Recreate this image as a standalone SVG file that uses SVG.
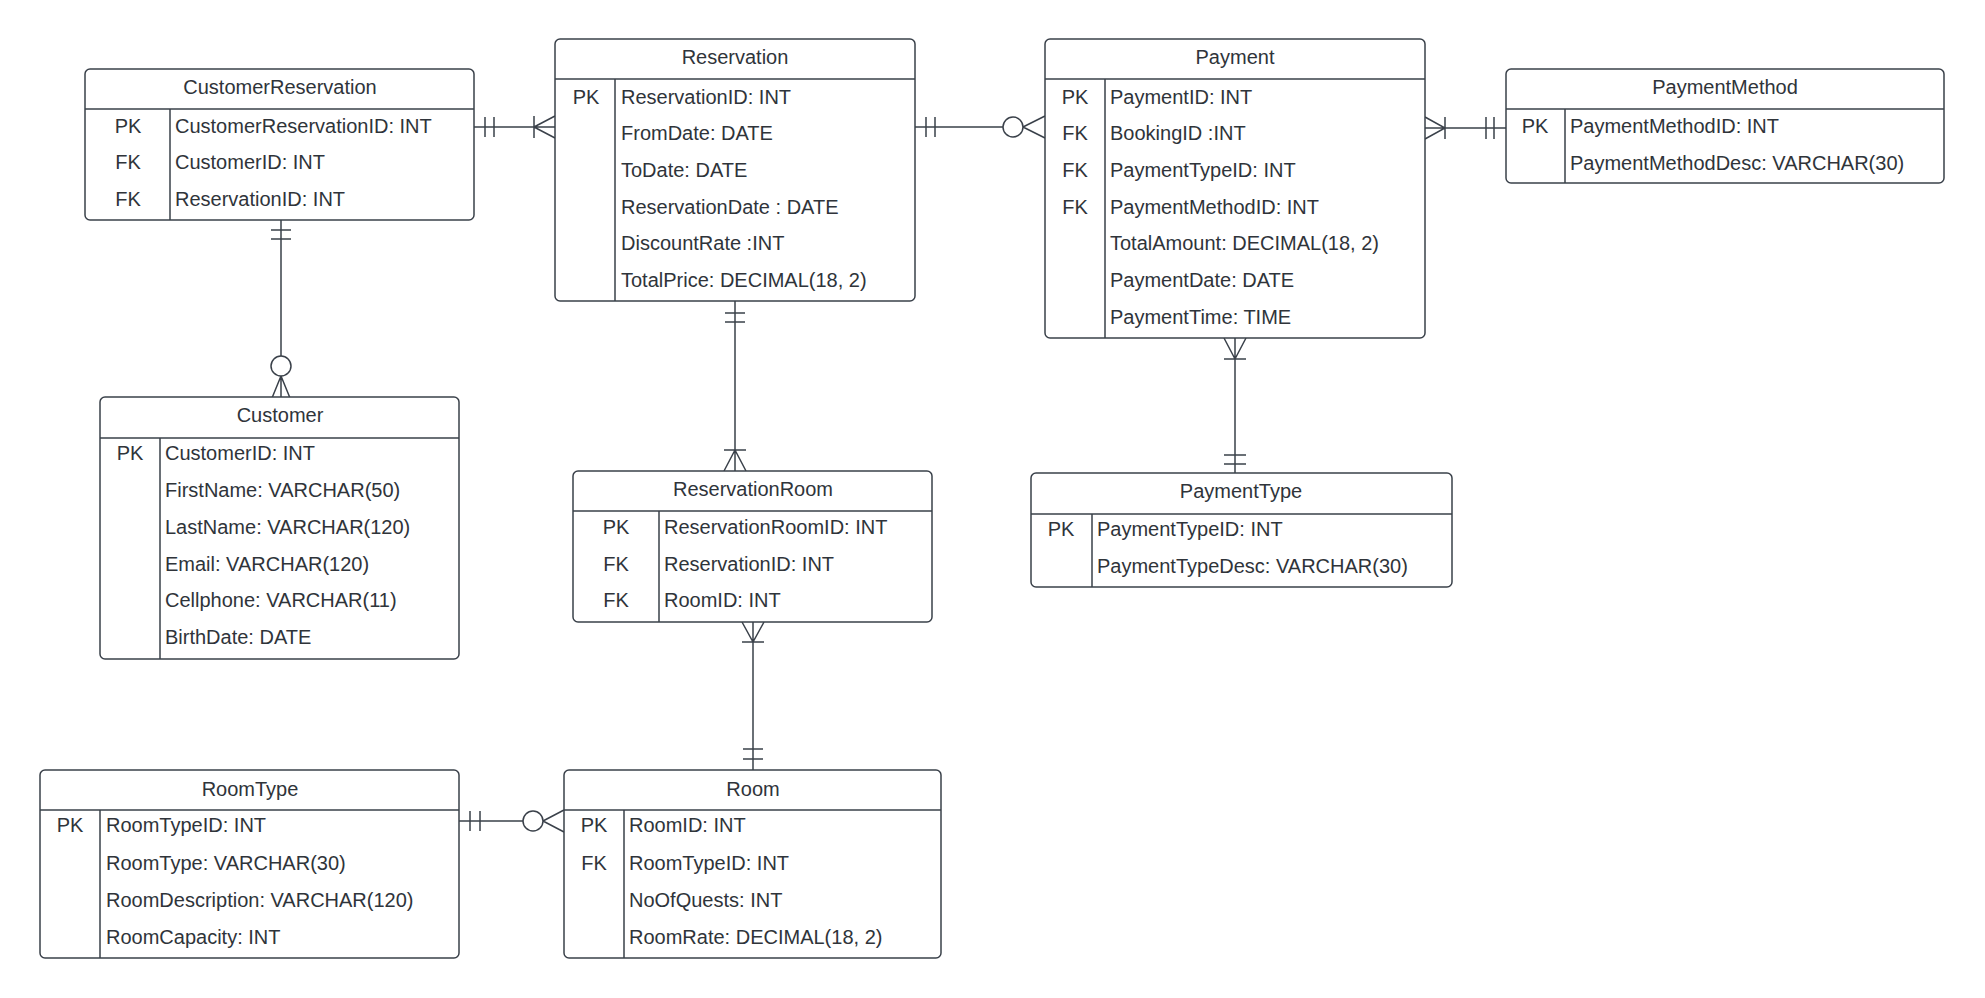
<svg xmlns="http://www.w3.org/2000/svg" width="1985" height="998" viewBox="0 0 1985 998">
<style>
.box{fill:#fff;stroke:#3a414a;stroke-width:1.5}
.ln{stroke:#3a414a;stroke-width:1.5;fill:none}
text{font-family:"Liberation Sans",Arial,sans-serif;font-size:20px;fill:#2f343a}
.h{text-anchor:middle}
.k{text-anchor:middle}
</style>
<rect width="1985" height="998" fill="#fff"/>
<g id="connectors" class="ln">
<path d="M474 127H555M485 117v20M494 117v20M534 127L555 116M534 127L555 138M534 116v22"/>
<path d="M281 220V398M271 230h20M271 239h20M281 376L272 398M281 376L290 398"/>
<circle cx="281" cy="366" r="10" fill="#fff"/>
<path d="M735 301V471M725 313h20M725 322h20M735 450L724 471M735 450L746 471M724 450h22"/>
<path d="M915 127H1003M926 117v20M935 117v20M1023 127L1045 116M1023 127L1045 138"/>
<circle cx="1013" cy="127" r="10" fill="#fff"/>
<path d="M1425 128H1506M1425 117L1445 128L1425 139M1445 117v22M1486 117v22M1494 117v22"/>
<path d="M1235 338V473M1224 338L1235 359L1246 338M1224 359h22M1224 455h22M1224 464h22"/>
<path d="M753 622V770M742 622L753 642L764 622M742 642h22M743 749h20M743 759h20"/>
<path d="M459 821H523M470 811v20M480 811v20M543 821L564 810M543 821L564 832"/>
<circle cx="533" cy="821" r="10" fill="#fff"/>
</g>
<g id="CustomerReservation">
<rect class="box" x="85" y="69" width="389" height="151" rx="5"/>
<path class="ln" d="M85 109H474M170 109V220"/>
<text class="h" x="280" y="94">CustomerReservation</text>
<text class="k" x="128" y="133">PK</text><text x="175" y="133">CustomerReservationID: INT</text>
<text class="k" x="128" y="169">FK</text><text x="175" y="169">CustomerID: INT</text>
<text class="k" x="128" y="206">FK</text><text x="175" y="206">ReservationID: INT</text>
</g>
<g id="Reservation">
<rect class="box" x="555" y="39" width="360" height="262" rx="5"/>
<path class="ln" d="M555 79H915M615 79V301"/>
<text class="h" x="735" y="64">Reservation</text>
<text class="k" x="586" y="104">PK</text><text x="621" y="104">ReservationID: INT</text>
<text x="621" y="140">FromDate: DATE</text>
<text x="621" y="177">ToDate: DATE</text>
<text x="621" y="214">ReservationDate : DATE</text>
<text x="621" y="250">DiscountRate :INT</text>
<text x="621" y="287">TotalPrice: DECIMAL(18, 2)</text>
</g>
<g id="Payment">
<rect class="box" x="1045" y="39" width="380" height="299" rx="5"/>
<path class="ln" d="M1045 79H1425M1105 79V338"/>
<text class="h" x="1235" y="64">Payment</text>
<text class="k" x="1075" y="104">PK</text><text x="1110" y="104">PaymentID: INT</text>
<text class="k" x="1075" y="140">FK</text><text x="1110" y="140">BookingID :INT</text>
<text class="k" x="1075" y="177">FK</text><text x="1110" y="177">PaymentTypeID: INT</text>
<text class="k" x="1075" y="214">FK</text><text x="1110" y="214">PaymentMethodID: INT</text>
<text x="1110" y="250">TotalAmount: DECIMAL(18, 2)</text>
<text x="1110" y="287">PaymentDate: DATE</text>
<text x="1110" y="324">PaymentTime: TIME</text>
</g>
<g id="PaymentMethod">
<rect class="box" x="1506" y="69" width="438" height="114" rx="5"/>
<path class="ln" d="M1506 109H1944M1565 109V183"/>
<text class="h" x="1725" y="94">PaymentMethod</text>
<text class="k" x="1535" y="133">PK</text><text x="1570" y="133">PaymentMethodID: INT</text>
<text x="1570" y="170">PaymentMethodDesc: VARCHAR(30)</text>
</g>
<g id="Customer">
<rect class="box" x="100" y="397" width="359" height="262" rx="5"/>
<path class="ln" d="M100 438H459M160 438V659"/>
<text class="h" x="280" y="422">Customer</text>
<text class="k" x="130" y="460">PK</text><text x="165" y="460">CustomerID: INT</text>
<text x="165" y="497">FirstName: VARCHAR(50)</text>
<text x="165" y="534">LastName: VARCHAR(120)</text>
<text x="165" y="571">Email: VARCHAR(120)</text>
<text x="165" y="607">Cellphone: VARCHAR(11)</text>
<text x="165" y="644">BirthDate: DATE</text>
</g>
<g id="ReservationRoom">
<rect class="box" x="573" y="471" width="359" height="151" rx="5"/>
<path class="ln" d="M573 511H932M659 511V622"/>
<text class="h" x="753" y="496">ReservationRoom</text>
<text class="k" x="616" y="534">PK</text><text x="664" y="534">ReservationRoomID: INT</text>
<text class="k" x="616" y="571">FK</text><text x="664" y="571">ReservationID: INT</text>
<text class="k" x="616" y="607">FK</text><text x="664" y="607">RoomID: INT</text>
</g>
<g id="PaymentType">
<rect class="box" x="1031" y="473" width="421" height="114" rx="5"/>
<path class="ln" d="M1031 514H1452M1092 514V587"/>
<text class="h" x="1241" y="498">PaymentType</text>
<text class="k" x="1061" y="536">PK</text><text x="1097" y="536">PaymentTypeID: INT</text>
<text x="1097" y="573">PaymentTypeDesc: VARCHAR(30)</text>
</g>
<g id="RoomType">
<rect class="box" x="40" y="770" width="419" height="188" rx="5"/>
<path class="ln" d="M40 810H459M100 810V958"/>
<text class="h" x="250" y="796">RoomType</text>
<text class="k" x="70" y="832">PK</text><text x="106" y="832">RoomTypeID: INT</text>
<text x="106" y="870">RoomType: VARCHAR(30)</text>
<text x="106" y="907">RoomDescription: VARCHAR(120)</text>
<text x="106" y="944">RoomCapacity: INT</text>
</g>
<g id="Room">
<rect class="box" x="564" y="770" width="377" height="188" rx="5"/>
<path class="ln" d="M564 810H941M624 810V958"/>
<text class="h" x="753" y="796">Room</text>
<text class="k" x="594" y="832">PK</text><text x="629" y="832">RoomID: INT</text>
<text class="k" x="594" y="870">FK</text><text x="629" y="870">RoomTypeID: INT</text>
<text x="629" y="907">NoOfQuests: INT</text>
<text x="629" y="944">RoomRate: DECIMAL(18, 2)</text>
</g>
</svg>
